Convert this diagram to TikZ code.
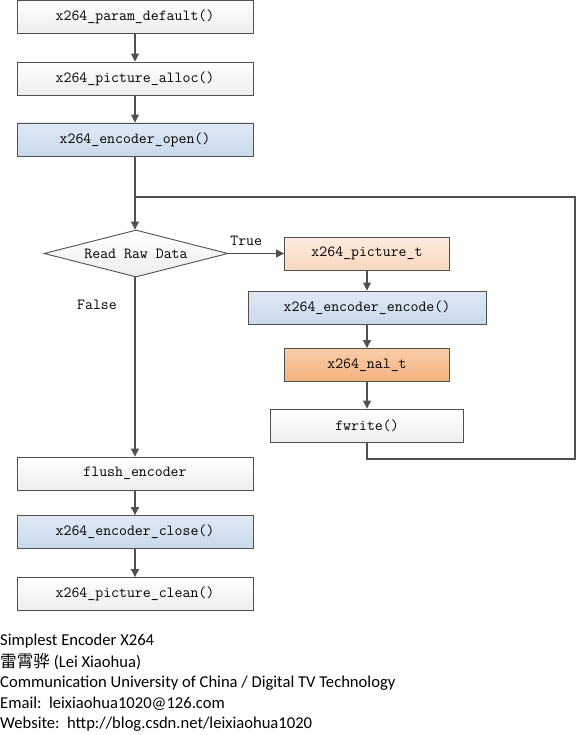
\documentclass[tikz,border=0pt]{standalone}
\usepackage{fontspec}
\setmainfont{Carlito}
\newfontfamily\cjk{Noto Sans CJK SC}
\usetikzlibrary{shapes.geometric,arrows.meta}
\definecolor{edge}{HTML}{505050}
\tikzset{
  box/.style={draw=edge, line width=0.9pt, rectangle, minimum height=33pt, inner sep=0pt,
     font=\ttfamily\fontsize{15.4}{15.4}\selectfont, text=black},
  whitebox/.style={box, top color=white, bottom color=black!7},
  bluebox/.style={box, top color={rgb,255:red,224;green,234;blue,245}, bottom color={rgb,255:red,200;green,217;blue,235}},
  peachbox/.style={box, top color={rgb,255:red,253;green,236;blue,224}, bottom color={rgb,255:red,249;green,215;blue,192}},
  orangebox/.style={box, top color={rgb,255:red,250;green,205;blue,168}, bottom color={rgb,255:red,243;green,177;blue,127}},
  decision/.style={draw=edge, line width=0.9pt, diamond, aspect=3.9, inner sep=0pt, minimum width=184pt, minimum height=47pt,
     top color=white, bottom color=black!7, font=\ttfamily\fontsize{15.4}{15.4}\selectfont},
  flow/.style={draw=edge, line width=1.1pt, -{Triangle[length=8pt,width=8pt]}},
  line/.style={draw=edge, line width=1.1pt},
  lbl/.style={font=\ttfamily\fontsize{15.4}{15.4}\selectfont, inner sep=0pt},
  foot/.style={font=\fontsize{16.6}{16.6}\selectfont, anchor=west, inner sep=0pt}
}
\begin{document}
\begin{tikzpicture}[x=1pt,y=-1pt]
\useasboundingbox[fill=white] (0,0) rectangle (576,735);
\node[whitebox, minimum width=236pt] (n1) at (135,16.5) {x264\_param\_default()};
\node[whitebox, minimum width=236pt] (n2) at (135,78.5) {x264\_picture\_alloc()};
\node[bluebox, minimum width=236pt] (n3) at (135,139.5) {x264\_encoder\_open()};
\node[decision] (d) at (136,253.5) {Read Raw Data};
\node[peachbox, minimum width=165pt] (p) at (367,253.5) {x264\_picture\_t};
\node[bluebox, minimum width=238pt] (e) at (367,307.5) {x264\_encoder\_encode()};
\node[orangebox, minimum width=165pt] (nal) at (367,365) {x264\_nal\_t};
\node[whitebox, minimum width=193pt] (fw) at (367,425.5) {fwrite()};
\node[whitebox, minimum width=236pt] (fl) at (135,473.5) {flush\_encoder};
\node[bluebox, minimum width=236pt] (cl) at (135,532) {x264\_encoder\_close()};
\node[whitebox, minimum width=236pt] (cn) at (135,594) {x264\_picture\_clean()};
\coordinate (j) at (135,197);
\coordinate (jr) at (575,197);
\coordinate (br) at (575,459);
\coordinate (bl) at (367,459);
\draw[flow] (n1) -- (n2);
\draw[flow] (n2) -- (n3);
\draw[line] (n3.south) -- (j);
\draw[flow] (j) -- (d.north -| j);
\draw[flow] (d.east) -- (p.west) node[lbl, pos=0.32, above=7pt] {True};
\draw[flow] (p) -- (e);
\draw[flow] (e) -- (nal);
\draw[flow] (nal) -- (fw);
\draw[line] (fw.south) -- (bl) -- (br) -- (jr) -- (j);
\draw[flow] (d.south -| fl.north) -- (fl.north);
\node[lbl] (f) at (97,305) {False};
\draw[flow] (fl) -- (cl);
\draw[flow] (cl) -- (cn);
\node[foot] (t1) at (0,641) {Simplest Encoder X264};
\node[foot] (t2) at (0,662) {{\cjk 雷霄骅} (Lei Xiaohua)};
\node[foot] (t3) at (0,683) {Communication University of China / Digital TV Technology};
\node[foot] (t4) at (0,704) {Email:\ \ leixiaohua1020@126.com};
\node[foot] (t5) at (0,724) {Website:\ \ http://blog.csdn.net/leixiaohua1020};
\end{tikzpicture}
\end{document}
